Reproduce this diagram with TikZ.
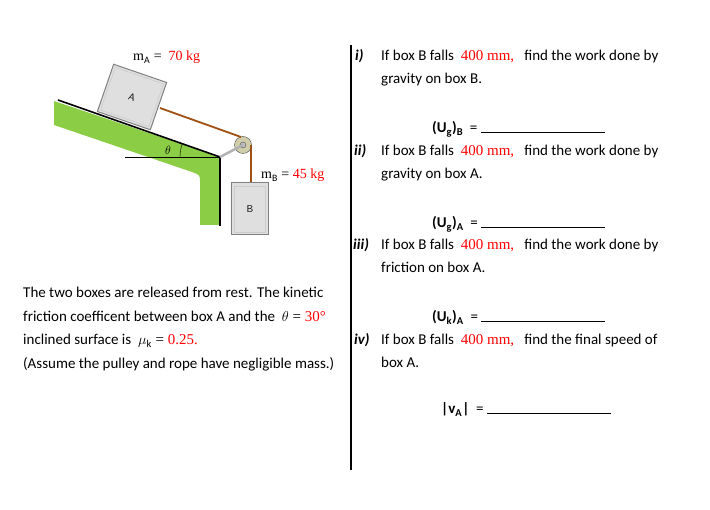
\documentclass[tikz,border=0pt]{standalone}
\usepackage{fontspec}
\setmainfont{Carlito}
\newfontfamily\serf{Liberation Serif}
\begin{document}
\begin{tikzpicture}[x=1pt,y=-1pt,
  txt/.style={anchor=base west,inner sep=0,font=\fontsize{15}{16}\selectfont},
  sf/.style={anchor=base west,inner sep=0,font=\serf\fontsize{14}{15}\selectfont}]
\useasboundingbox (0,0) rectangle (710,510);
\definecolor{grn}{RGB}{140,205,70}
\definecolor{rope}{RGB}{160,80,20}
% ground
\fill[grn] (54,101) -- (220,157) -- (220,225) -- (200,225) -- (200,182) .. controls (200,175) .. (192,172) -- (54,125) -- cycle;
\draw[line width=1.6pt] (58,100) -- (220,157) -- (220,226);
\coordinate (corner) at (220,157);
\draw[thin] (125,157) -- (corner);
\draw[thin] (180,157) arc[start angle=180,end angle=199,radius=40];
\node[font=\serf\fontsize{13}{13}\selectfont] (th) at (168,150) {$\theta$};
% box A
\node[draw=gray,fill=gray!25,line width=1pt,minimum width=56pt,minimum height=50pt,rotate=-19,font=\sffamily\fontsize{10}{10}\selectfont] (A) at (132,97) {A};
\node[draw=white!60!gray,line width=0.6pt,minimum width=51pt,minimum height=45pt,rotate=-19] (Ain) at (132,97) {};
% pulley
\node[circle,fill=gray!70!yellow!60,draw=gray!60!black,minimum size=17pt,inner sep=0] (P) at (243,145) {};
\node[circle,fill=gray!50,draw=gray!60!black,minimum size=6pt,inner sep=0] at (P) {};
\draw[gray!60,line width=2.5pt] (corner) -- (P.center);
% box B
\node[draw=gray,fill=gray!25,line width=1pt,minimum width=37pt,minimum height=52pt,font=\sffamily\fontsize{10}{10}\selectfont] (B) at (250,209) {B};
\node[draw=white!60!gray,line width=0.6pt,minimum width=31pt,minimum height=46pt] (Bin) at (B) {};
% rope
\draw[rope,line width=1.8pt] (160,108) -- (241,137);
\draw[rope,line width=1.8pt] (251,145) -- (B.north-|251,0);
% mass labels
\node[sf] (mA) at (133,61) {m$_\mathrm{A}$ = \ \textcolor{red}{70 kg}};
\node[sf] (mB) at (261,179) {m$_\mathrm{B}$ = \textcolor{red}{45 kg}};
% left text
\node[txt] (l1) at (23,298) {The two boxes are released from rest. The kinetic};
\node[txt] (l2) at (23,322) {friction coefficent between box A and the \ {\serf$\theta$ = \textcolor{red}{30°}}};
\node[txt] (l3) at (23,345) {inclined surface is \ {\serf$\mu_\mathrm{k}$ = \textcolor{red}{0.25.}}};
\node[txt] (l4) at (23,369) {(Assume the pulley and rope have negligible mass.)};
% divider
\draw[line width=1.2pt] (351,45) -- (351,470);
% right
\node[txt] at (355,61) {\textbf{\textit{i)}}};
\node[txt] at (381,61) {If box B falls \ {\serf\textcolor{red}{400 mm,}} \ \ find the work done by};
\node[txt] at (381,84) {gravity on box B.};
\node[txt] at (432,133) {\textbf{(U$_\mathbf{g}$)$_\mathbf{B}$} \ = \rule{124pt}{0.5pt}};
\node[txt] at (354,156) {\textbf{\textit{ii)}}};
\node[txt] at (381,156) {If box B falls \ {\serf\textcolor{red}{400 mm,}} \ \ find the work done by};
\node[txt] at (381,179) {gravity on box A.};
\node[txt] at (432,228) {\textbf{(U$_\mathbf{g}$)$_\mathbf{A}$} \ = \rule{124pt}{0.5pt}};
\node[txt] at (353,250) {\textbf{\textit{iii)}}};
\node[txt] at (381,250) {If box B falls \ {\serf\textcolor{red}{400 mm,}} \ \ find the work done by};
\node[txt] at (381,273) {friction on box A.};
\node[txt] at (432,322) {\textbf{(U$_\mathbf{k}$)$_\mathbf{A}$} \ = \rule{124pt}{0.5pt}};
\node[txt] at (354,345) {\textbf{\textit{iv)}}};
\node[txt] at (381,345) {If box B falls \ {\serf\textcolor{red}{400 mm,}} \ \ find the final speed of};
\node[txt] at (381,368) {box A.};
\node[txt] at (441,414) {\textbf{|v$_\mathbf{A}$|} \ = \rule{124pt}{0.5pt}};
\end{tikzpicture}
\end{document}
